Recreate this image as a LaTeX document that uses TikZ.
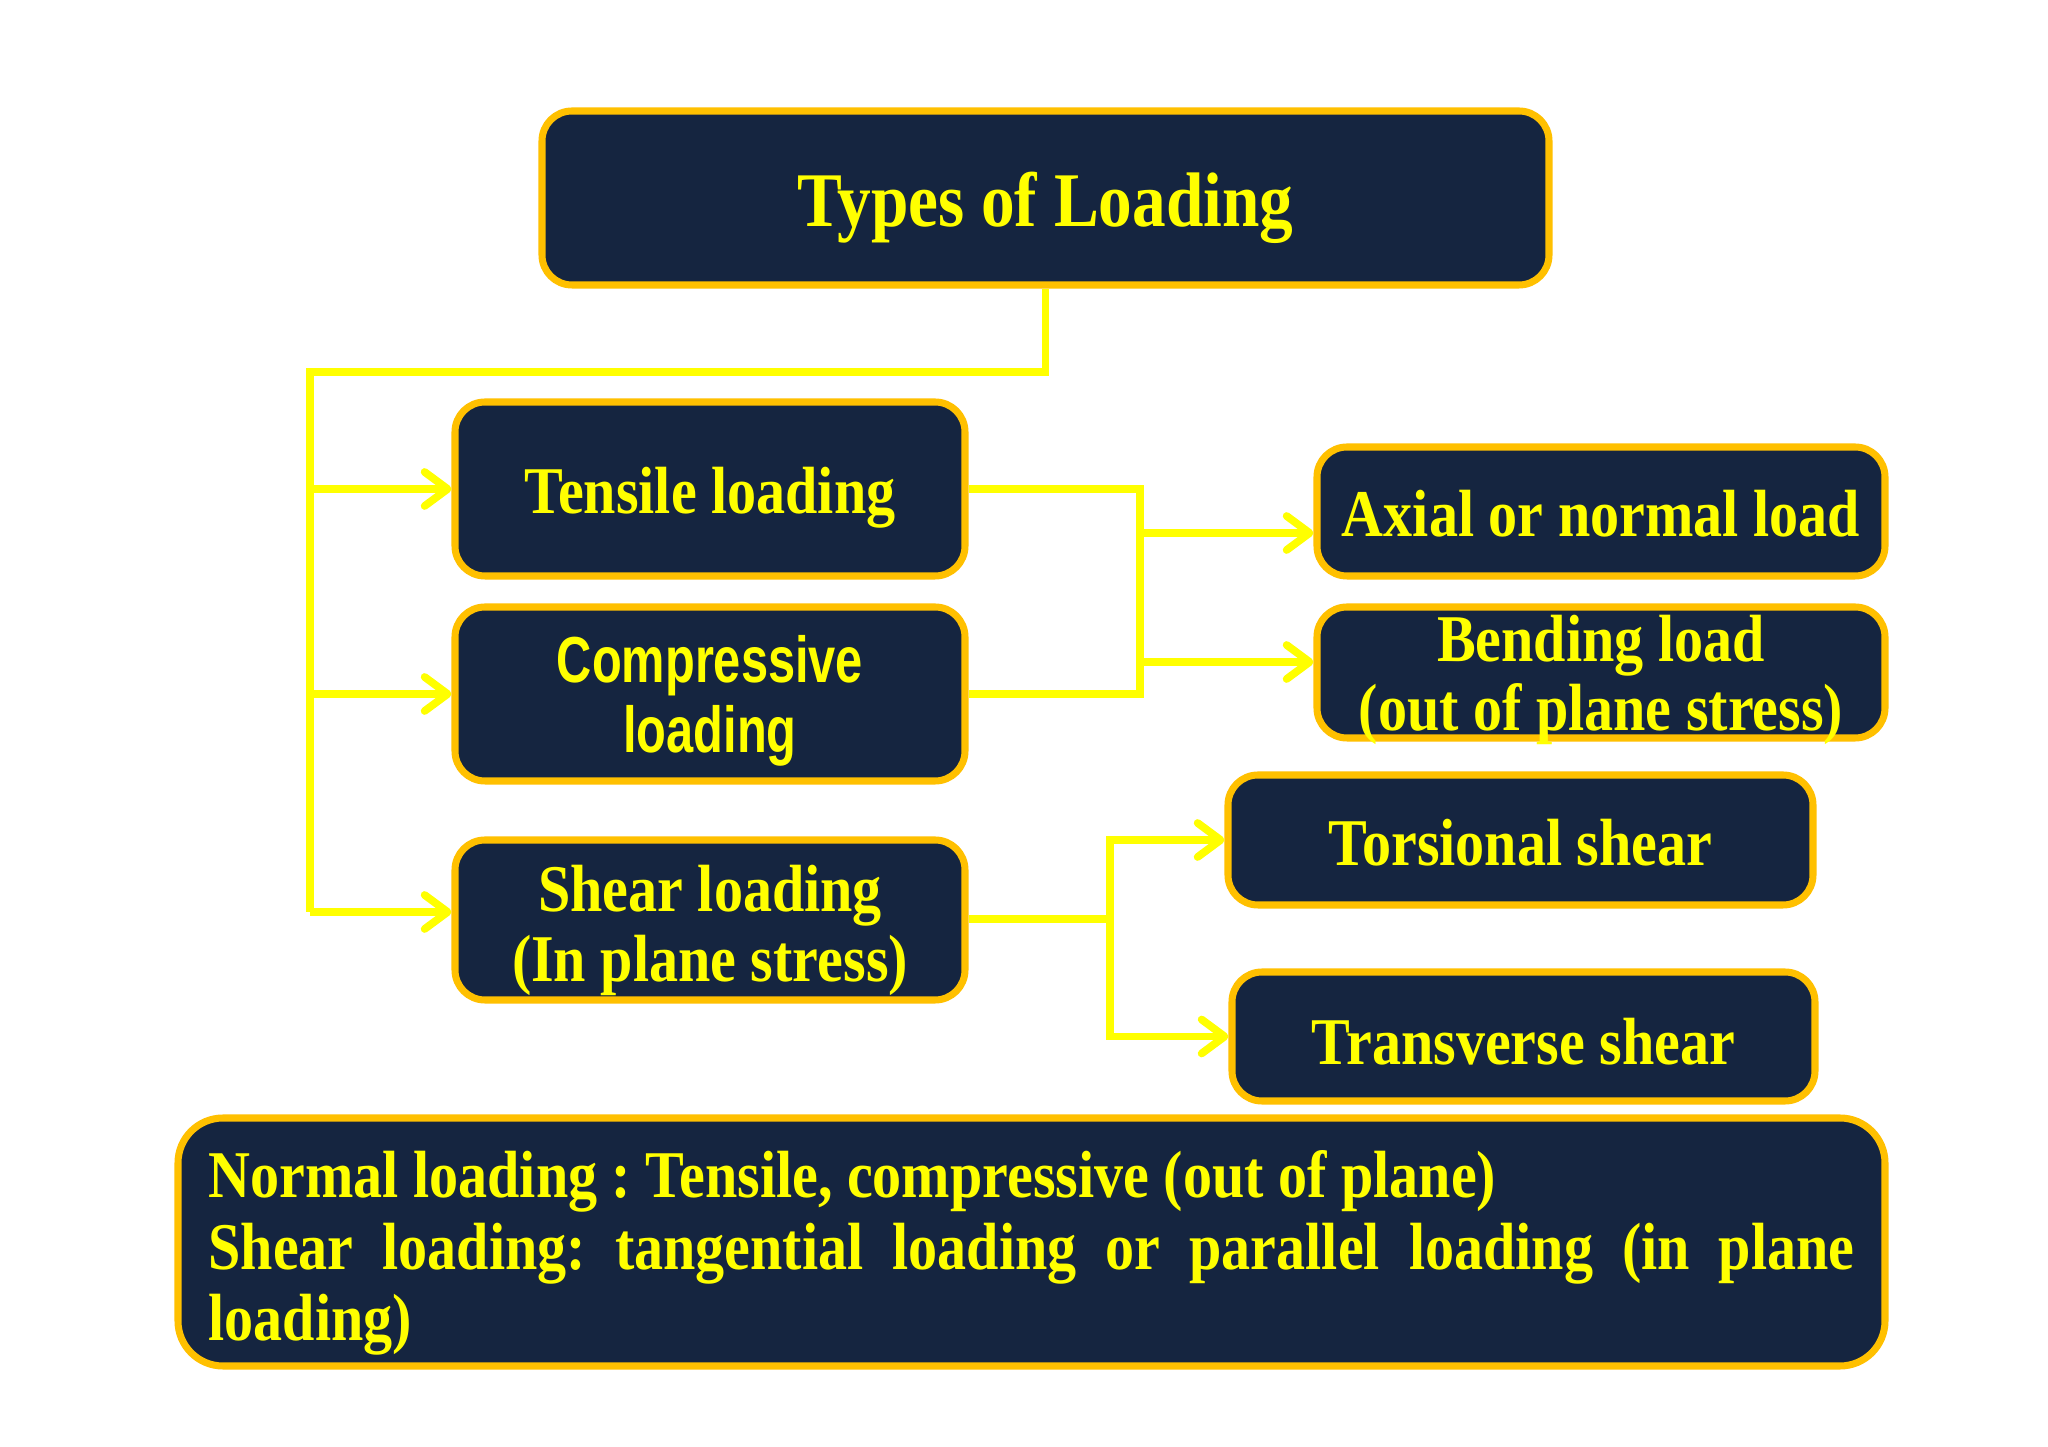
\documentclass[tikz,border=0pt]{standalone}
\usepackage{fontspec}
\setmainfont{Liberation Serif}[FakeStretch=0.87]
\setsansfont{Liberation Sans}[FakeStretch=0.75]
\usetikzlibrary{arrows.meta}
\definecolor{boxnavy}{RGB}{21,37,64}
\definecolor{boxgold}{RGB}{255,192,0}
\definecolor{txtyellow}{RGB}{255,255,0}
\newcommand{\padtop}[1]{\rule{0pt}{#1}}
\frenchspacing

\begin{document}
\begin{tikzpicture}[
    box/.style={draw=boxgold, line width=2pt, fill=boxnavy, rounded corners=0.3cm,
      text=txtyellow, font=\bfseries\fontsize{19}{19.8}\selectfont, align=center,
      inner sep=0pt},
    link/.style={draw=txtyellow, line width=2.2pt},
    >={Straight Barb[length=2.3mm,width=3.4mm,round]}
  ]
  \fill[white] (0,0) rectangle (20.48,-14.47);
  \useasboundingbox (0,0) rectangle (20.48,-14.47);

  \node[box, minimum width=10.07cm, minimum height=1.74cm,
    font=\bfseries\fontsize{22}{24}\selectfont] (title) at (10.455,-1.98) {\padtop{21pt}Types of Loading};

  \node[box, minimum width=5.10cm, minimum height=1.74cm] (tensile) at (7.10,-4.89) {\padtop{18.2pt}Tensile loading};
  \node[box, minimum width=5.10cm, minimum height=1.74cm,
    font=\sffamily\bfseries\fontsize{18.5}{19.8}\selectfont] (compress) at (7.10,-6.94) {\padtop{17.2pt}Compressive\\loading};
  \node[box, minimum width=5.10cm, minimum height=1.60cm] (shear) at (7.10,-9.20) {\padtop{19pt}Shear loading\\(In plane stress)};

  \node[box, minimum width=5.68cm, minimum height=1.29cm] (axial) at (16.01,-5.115) {\padtop{14.5pt}Axial or normal load};
  \node[box, minimum width=5.68cm, minimum height=1.31cm, inner ysep=-0.25cm] (bending) at (16.01,-6.725) {\padtop{17.4pt}Bending load\\(out of plane stress)};
  \node[box, minimum width=5.85cm, minimum height=1.30cm] (torsion) at (15.205,-8.40) {\padtop{14.5pt}Torsional shear};
  \node[box, minimum width=5.83cm, minimum height=1.29cm] (transverse) at (15.235,-10.365) {\padtop{16pt}Transverse shear};

  \node[box, minimum width=17.07cm, minimum height=2.48cm, rounded corners=0.45cm,
    font=\bfseries\fontsize{19}{20.3}\selectfont] (summary) at (10.315,-12.42)
    {\begin{minipage}{16.46cm}
      \padtop{19.6pt}Normal loading : Tensile, compressive (out of plane)\\
      Shear loading: tangential loading or parallel loading (in plane\linebreak
      loading)
    \end{minipage}};

  % left tree
  \coordinate (trunk) at (3.10,-3.72);
  \coordinate (trunkend) at (3.10,-9.12);
  \draw[link] (title.south) |- (trunk) -- (trunkend);
  \foreach \n in {tensile,compress}
    \draw[link,->] (trunk |- \n.west) -- (\n.west);
  \draw[link,->] (trunkend) -- (trunkend -| shear.west);

  % normal loads
  \coordinate (tcjoin) at (11.40,-5.9);
  \draw[link] (tensile.east) -| (tcjoin) |- (compress.east);
  \coordinate (ax) at (11.40,-5.33);
  \coordinate (bx) at (11.40,-6.62);
  \draw[link,->] (ax) -- (ax -| axial.west);
  \draw[link,->] (bx) -- (bx -| bending.west);

  % shear loads
  \coordinate (sjoin) at (11.10,-9.19);
  \draw[link] (sjoin -| shear.east) -- (sjoin);
  \draw[link,->] (sjoin) |- (torsion.west);
  \draw[link,->] (sjoin) |- (transverse.west);
\end{tikzpicture}
\end{document}
